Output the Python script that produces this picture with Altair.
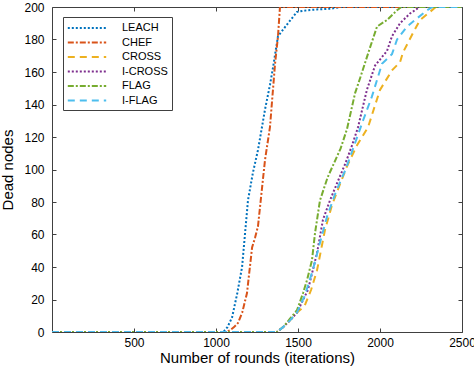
import altair as alt
import pandas as pd

series = ["LEACH", "CHEF", "CROSS", "I-CROSS", "FLAG", "I-FLAG"]
colors = ["#0072BD", "#D95319", "#EDB120", "#7E2F8E", "#77AC30", "#4DBEEE"]
dashes = [[2, 2], [6, 2, 2, 2], [7, 5], [2, 2], [6, 2, 2, 2], [7, 5]]

leach_x = [0, 1045, 1070, 1098, 1130, 1159, 1195, 1225, 1256, 1299, 1329, 1348, 1378, 1439, 1494, 1555, 1616, 1700, 1760, 2500]
leach_y = [0, 0, 3, 9, 24, 40, 81, 98, 112, 137, 152, 163, 182, 190, 197, 198, 198.5, 199, 200, 200]

chef_x = [0, 1060, 1085, 1110, 1134, 1160, 1189, 1220, 1238, 1256, 1280, 1299, 1329, 1360, 1378, 1390, 2500]
chef_y = [0, 0, 1, 3, 5.5, 12, 24, 52, 58, 65, 88, 106, 126, 165, 182, 200, 200]

cross_x = [0, 1375, 1409, 1450, 1494, 1540, 1580, 1616, 1665, 1707, 1760, 1799, 1860, 1927, 2000, 2073, 2122, 2140, 2201, 2244, 2305, 2340, 2500]
cross_y = [0, 0, 3, 7, 12, 16, 26, 38, 63, 78, 92, 102, 115, 126, 149, 161, 166, 172, 184, 192, 197, 200, 200]

icross_x = [0, 1372, 1409, 1450, 1494, 1561, 1616, 1652, 1695, 1740, 1790, 1830, 1866, 1920, 1970, 2043, 2073, 2122, 2183, 2213, 2240, 2500]
icross_y = [0, 0, 3, 7, 12, 26, 48.6, 69, 81, 92, 104, 115, 126, 149, 164, 173, 182, 190, 196, 198, 200, 200]

flag_x = [0, 1370, 1409, 1450, 1494, 1531, 1555, 1585, 1604, 1634, 1680, 1720, 1760, 1799, 1848, 1878, 1939, 1982, 2043, 2104, 2130, 2500]
flag_y = [0, 0, 3, 8, 13.5, 24, 32, 44, 61, 81, 95, 104, 113, 125, 147, 156, 175, 188, 192, 198, 200, 200]

iflag_x = [0, 1372, 1409, 1450, 1494, 1540, 1590, 1634, 1677, 1730, 1790, 1840, 1896, 1951, 2012, 2073, 2104, 2165, 2226, 2287, 2320, 2500]
iflag_y = [0, 0, 3, 7, 12, 22, 38, 55, 71, 86, 100, 114, 130, 145, 165, 171, 180, 188, 193, 198, 200, 200]

x_ticks = [500, 1000, 1500, 2000, 2500]
y_ticks = [0, 20, 40, 60, 80, 100, 120, 140, 160, 180, 200]

rows = []
for name, xs, ys in [("LEACH", leach_x, leach_y), ("CHEF", chef_x, chef_y),
                     ("CROSS", cross_x, cross_y), ("I-CROSS", icross_x, icross_y),
                     ("FLAG", flag_x, flag_y), ("I-FLAG", iflag_x, iflag_y)]:
    for i, (xv, yv) in enumerate(zip(xs, ys)):
        rows.append({"series": name, "x": xv, "y": yv, "order": i})
df = pd.DataFrame(rows)

FONT = "Liberation Sans"
FRAME = "#404040"

x_scale = alt.Scale(domain=[0, 2500], nice=False, zero=False)
y_scale = alt.Scale(domain=[0, 200], nice=False)

legend = alt.Legend(title=None, orient="none", legendX=11, legendY=10,
                    symbolType="M-3.2,0H3.2", symbolSize=144, symbolOffset=13,
                    symbolStrokeWidth=2, symbolFillColor="transparent",
                    labelFontSize=11, labelOffset=28,
                    strokeColor=FRAME, fillColor="white",
                    padding=4, rowPadding=2.5, labelColor="black")

lines = alt.Chart(df).mark_line(strokeWidth=2, clip=True).encode(
    x=alt.X("x:Q", scale=x_scale,
            axis=alt.Axis(values=x_ticks, format="d", title="Number of rounds (iterations)", grid=False,
                          domain=False, offset=-4, tickSize=4, tickColor=FRAME,
                          labelPadding=5, labelFontSize=12, titleFontSize=15,
                          titleFontWeight="normal", labelColor="black", titleColor="black",
                          titlePadding=2, labelFlush=False)),
    y=alt.Y("y:Q", scale=y_scale,
            axis=alt.Axis(values=y_ticks, format="d", title="Dead nodes", grid=False,
                          domain=False, offset=-4, tickSize=4, tickColor=FRAME,
                          labelPadding=8, labelFontSize=12, titleFontSize=15,
                          titleFontWeight="normal", labelColor="black", titleColor="black",
                          titlePadding=8)),
    color=alt.Color("series:N", scale=alt.Scale(domain=series, range=colors), legend=legend),
    strokeDash=alt.StrokeDash("series:N", scale=alt.Scale(domain=series, range=dashes), legend=legend),
    order="order:Q",
)

frame_axes = alt.Chart(df).mark_line(opacity=0).encode(
    x=alt.X("x:Q", scale=x_scale,
            axis=alt.Axis(orient="top", values=x_ticks, labels=False, title=None, grid=False,
                          domain=False, offset=-4, tickSize=4, tickColor=FRAME)),
    y=alt.Y("y:Q", scale=y_scale,
            axis=alt.Axis(orient="right", values=y_ticks, labels=False, title=None, grid=False,
                          domain=False, offset=-4, tickSize=4, tickColor=FRAME)),
    detail="series:N",
)

chart = alt.layer(lines, frame_axes).resolve_scale(x="independent", y="independent").properties(
    width=410, height=325,
    padding={"left": 52, "top": 7, "right": 12, "bottom": 43},
    autosize=alt.AutoSizeParams(type="none"),
).configure(font=FONT).configure_view(stroke=FRAME, strokeWidth=1)

chart.save("out.html", embed_options={"renderer": "svg", "actions": False})
